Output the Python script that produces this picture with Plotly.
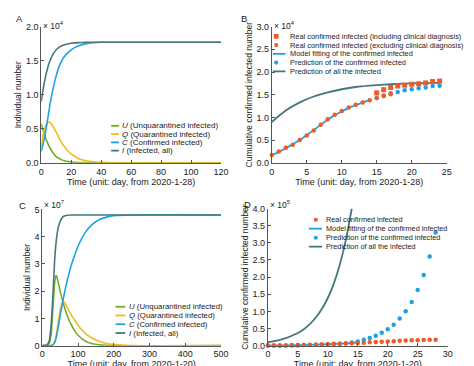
import plotly.graph_objects as go

# ---------------- DATA ----------------
# Panel A (values x10^4), time in days from 2020-1-28
a_t_U = [0, 2, 4, 6, 8, 10, 13, 16, 20, 25, 30, 40, 60, 120]
a_U = [0.57, 0.42, 0.30, 0.21, 0.14, 0.09, 0.05, 0.025, 0.01, 0.004, 0.002, 0, 0, 0]
a_t_Q = [0, 1, 2, 3, 4, 5, 6, 8, 10, 12, 15, 18, 20, 25, 30, 35, 40, 50, 60, 120]
a_Q = [0.23, 0.38, 0.48, 0.55, 0.59, 0.60, 0.59, 0.53, 0.45, 0.36, 0.25, 0.17, 0.13, 0.06, 0.03, 0.015, 0.007, 0.001, 0, 0]
a_t_C = [0, 2, 4, 6, 8, 10, 12, 15, 20, 25, 30, 40, 50, 120]
a_C = [0.17, 0.35, 0.60, 0.88, 1.10, 1.28, 1.42, 1.55, 1.66, 1.72, 1.75, 1.77, 1.77, 1.77]
a_t_I = [0, 1, 2, 3, 4, 5, 6, 8, 10, 12, 15, 20, 25, 30, 40, 120]
a_I = [0.90, 1.05, 1.17, 1.28, 1.37, 1.45, 1.51, 1.60, 1.66, 1.70, 1.73, 1.755, 1.765, 1.77, 1.77, 1.77]

# Panel B (values x10^4)
b_t_sq = [15, 16, 17, 18, 19, 20, 21, 22, 23, 24]
b_sq = [1.54, 1.61, 1.66, 1.69, 1.71, 1.73, 1.74, 1.76, 1.79, 1.80]
b_t_real = list(range(0, 18))
b_real = [0.17, 0.25, 0.33, 0.40, 0.50, 0.60, 0.71, 0.84, 0.96, 1.06, 1.14, 1.22, 1.28, 1.33, 1.38, 1.43, 1.47, 1.51]
b_t_fit = list(range(0, 15))
b_fit = [0.16, 0.24, 0.32, 0.41, 0.50, 0.61, 0.72, 0.84, 0.95, 1.05, 1.13, 1.21, 1.27, 1.33, 1.38]
b_t_pred = [15, 16, 17, 18, 19, 20, 21, 22, 23, 24]
b_pred = [1.43, 1.48, 1.53, 1.56, 1.60, 1.62, 1.64, 1.66, 1.69, 1.70]
b_t_all = [0, 2, 4, 6, 8, 10, 12, 14, 16, 18, 20, 22, 24]
b_all = [0.90, 1.15, 1.33, 1.46, 1.55, 1.62, 1.67, 1.70, 1.72, 1.74, 1.75, 1.755, 1.76]

# Panel C (values x10^7), time in days from 2020-1-20
c_t_U = [0, 15, 20, 25, 30, 35, 38, 40, 45, 50, 60, 70, 80, 90, 100, 120, 140, 160, 200, 500]
c_U = [0, 0.02, 0.1, 0.45, 1.4, 2.35, 2.57, 2.55, 2.3, 2.0, 1.5, 1.1, 0.8, 0.56, 0.38, 0.17, 0.07, 0.03, 0.005, 0]
c_t_Q = [0, 20, 25, 30, 35, 40, 45, 50, 55, 58, 62, 70, 80, 90, 100, 120, 140, 160, 180, 200, 250, 500]
c_Q = [0, 0, 0.01, 0.05, 0.15, 0.45, 0.9, 1.3, 1.55, 1.62, 1.6, 1.4, 1.15, 0.95, 0.75, 0.45, 0.27, 0.15, 0.08, 0.04, 0.005, 0]
c_t_C = [0, 25, 30, 35, 40, 45, 50, 60, 70, 80, 90, 100, 120, 140, 160, 180, 200, 250, 500]
c_C = [0, 0, 0.03, 0.12, 0.35, 0.7, 1.1, 1.8, 2.4, 2.9, 3.3, 3.65, 4.15, 4.45, 4.63, 4.72, 4.77, 4.8, 4.8]
c_t_I = [0, 10, 15, 20, 25, 30, 35, 40, 45, 50, 55, 60, 70, 80, 500]
c_I = [0, 0.01, 0.05, 0.2, 0.8, 1.9, 3.2, 3.95, 4.35, 4.56, 4.68, 4.75, 4.79, 4.8, 4.8]

# Panel D (values x10^5)
d_t_real = list(range(0, 29))
d_real = [0.003, 0.004, 0.005, 0.007, 0.010, 0.013, 0.017, 0.022, 0.027, 0.033, 0.040, 0.047, 0.055, 0.063,
          0.072, 0.080, 0.088, 0.097, 0.105, 0.112, 0.120, 0.130, 0.140, 0.148, 0.155, 0.160, 0.165, 0.170, 0.172]
d_t_fit = [0, 2, 4, 6, 8, 10, 12, 14, 15]
d_fit = [0.003, 0.006, 0.011, 0.018, 0.028, 0.041, 0.057, 0.078, 0.09]
d_t_pred = list(range(0, 29))
d_pred = [0.003, 0.004, 0.006, 0.008, 0.011, 0.014, 0.018, 0.023, 0.028, 0.034, 0.041, 0.048, 0.057, 0.07,
          0.09, 0.12, 0.17, 0.22, 0.29, 0.38, 0.48, 0.61, 0.79, 1.00, 1.27, 1.62, 2.06, 2.60, 3.30]
d_t_all = [0, 1, 2, 3, 4, 5, 6, 7, 8, 9, 10, 11, 12, 13, 14]
d_all = [0.10, 0.13, 0.17, 0.22, 0.29, 0.37, 0.48, 0.63, 0.82, 1.07, 1.39, 1.81, 2.36, 3.07, 4.0]

# Tick values
a_xticks = [0, 20, 40, 60, 80, 100, 120]
a_yticks = [0.0, 0.5, 1.0, 1.5, 2.0]
b_xticks = [0, 5, 10, 15, 20, 25]
b_yticks = [0.0, 0.5, 1.0, 1.5, 2.0, 2.5, 3.0]
c_xticks = [0, 100, 200, 300, 400, 500]
c_yticks = [0, 1, 2, 3, 4, 5]
d_xticks = [0, 5, 10, 15, 20, 25, 30]
d_yticks = [0.0, 0.5, 1.0, 1.5, 2.0, 2.5, 3.0, 3.5, 4.0]

# ---------------- STYLE ----------------
W, H = 474, 366
GREEN = "#72ae26"
YELLOW = "#f4ba1f"
BLUE = "#1ea2e3"
TEAL = "#45777c"
RED = "#ef5a26"
FONT = "Arial, Liberation Sans, sans-serif"
TXT = "#222222"


def px(x):
    return x / W


def py(y):
    return 1 - y / H


fig = go.Figure()


def line(x, y, color, xa, ya, width=1.6):
    fig.add_trace(go.Scatter(x=x, y=y, mode="lines", line=dict(color=color, width=width, shape="spline", smoothing=0.6),
                             xaxis=xa, yaxis=ya, showlegend=False, hoverinfo="skip"))


def dots(x, y, color, xa, ya, symbol="circle", size=4.5):
    fig.add_trace(go.Scatter(x=x, y=y, mode="markers", marker=dict(color=color, size=size, symbol=symbol, line=dict(width=0)),
                             xaxis=xa, yaxis=ya, showlegend=False, cliponaxis=False, hoverinfo="skip"))


# Panel A
line(a_t_U, a_U, GREEN, "x", "y")
line(a_t_Q, a_Q, YELLOW, "x", "y")
line(a_t_C, a_C, BLUE, "x", "y")
line(a_t_I, a_I, TEAL, "x", "y")
# Panel B
line(b_t_all, b_all, TEAL, "x2", "y2", 1.8)
line(b_t_fit, b_fit, BLUE, "x2", "y2", 1.8)
dots(b_t_pred, b_pred, BLUE, "x2", "y2")
dots(b_t_sq, b_sq, RED, "x2", "y2", "square", 5)
dots(b_t_real, b_real, RED, "x2", "y2")
# Panel C
line(c_t_U, c_U, GREEN, "x3", "y3")
line(c_t_Q, c_Q, YELLOW, "x3", "y3")
line(c_t_C, c_C, BLUE, "x3", "y3")
line(c_t_I, c_I, TEAL, "x3", "y3")
# Panel D
line(d_t_fit, d_fit, BLUE, "x4", "y4", 1.8)
dots(d_t_pred, d_pred, BLUE, "x4", "y4")
dots(d_t_real, d_real, RED, "x4", "y4")
line(d_t_all, d_all, TEAL, "x4", "y4", 1.8)

tickfont = dict(family=FONT, size=9, color=TXT)
xtitlefont = dict(family=FONT, size=9, color=TXT)
ytitlefont = dict(family=FONT, size=8.5, color=TXT)


def xax(dom, rng, ticks, title, anchor):
    return dict(domain=dom, range=rng, tickvals=ticks, anchor=anchor, showline=True, linecolor="#555", linewidth=1,
                ticks="inside", ticklen=3, tickcolor="#555", showgrid=False, zeroline=False, tickfont=tickfont,
                title=dict(text=title, font=xtitlefont, standoff=1), fixedrange=True)


def yax(dom, rng, ticks, fmt, title, anchor):
    return dict(domain=dom, range=rng, tickvals=ticks, tickformat=fmt, anchor=anchor, showline=True, linecolor="#555",
                linewidth=1, ticks="inside", ticklen=3, tickcolor="#555", showgrid=False, zeroline=False,
                tickfont=tickfont, title=dict(text=title, font=ytitlefont, standoff=2), fixedrange=True)


xt1 = "Time (unit: day, from 2020-1-28)"
xt2 = "Time (unit: day, from 2020-1-20)"

fig.update_layout(
    width=W, height=H, autosize=False, margin=dict(l=0, r=0, t=0, b=0),
    paper_bgcolor="white", plot_bgcolor="white", showlegend=False,
    font=dict(family=FONT, color=TXT),
    xaxis=xax([px(31), px(215)], [0, 120], a_xticks, xt1, "y"),
    yaxis=yax([py(154), py(14)], [0, 2.0], a_yticks, ".1f", "Individual number", "x"),
    xaxis2=xax([px(267), px(446)], [0, 25], b_xticks, xt1, "y2"),
    yaxis2=yax([py(154), py(14)], [0, 3.0], b_yticks, ".1f", "Cumulative confirmed infected number", "x2"),
    xaxis3=xax([px(32), px(215)], [0, 500], c_xticks, xt2, "y3"),
    yaxis3=yax([py(342), py(202)], [0, 5], c_yticks, "d", "Individual number", "x3"),
    xaxis4=xax([px(263), px(447)], [0, 30], d_xticks, xt2, "y4"),
    yaxis4=yax([py(342), py(201)], [0, 4.0], d_yticks, ".1f", "Cumulative confirmed infected number", "x4"),
)

ann = []
shapes = []


def text(x, y, s, size, anchor="left"):
    ann.append(dict(x=px(x), y=py(y), xref="paper", yref="paper", text=s, showarrow=False, xanchor=anchor,
                    yanchor="middle", font=dict(family=FONT, size=size, color=TXT)))


# panel letters
text(3, 6, "A", 9.5)
text(233, 6, "B", 9.5)
text(6, 198, "C", 9.5)
text(236, 197, "D", 9.5)
# exponent labels
text(31, 13, "× 10<sup>4</sup>", 8.5)
text(267, 13, "× 10<sup>4</sup>", 8.5)
text(32, 197, "× 10<sup>7</sup>", 8.5)
text(263, 197, "× 10<sup>5</sup>", 8.5)


def leg_line(x0, x1, y, color):
    shapes.append(dict(type="line", xref="paper", yref="paper", x0=px(x0), x1=px(x1), y0=py(y), y1=py(y),
                       line=dict(color=color, width=1.8)))


def leg_dot(cx, cy, color, r=2.1, kind="circle"):
    shapes.append(dict(type=kind, xref="paper", yref="paper", x0=px(cx - r), x1=px(cx + r), y0=py(cy + r),
                       y1=py(cy - r), fillcolor=color, line=dict(width=0)))


# Legend A
la = [("<i>U</i> (Unquarantined infected)", GREEN), ("<i>Q</i> (Quarantined infected)", YELLOW),
      ("<i>C</i> (Confirmed infected)", BLUE), ("<i>I</i> (Infected, all)", TEAL)]
for i, (s, c) in enumerate(la):
    yy = 116 + i * 8.5
    leg_line(102.5, 110.5, yy, c)
    text(112, yy, s, 8)

# Legend C
for i, (s, c) in enumerate(la):
    yy = 302 + i * 9
    leg_line(107, 117, yy, c)
    text(118.5, yy, s, 7.8)

# Legend B
ys = [24, 33, 42, 51, 60]
leg_dot(271.5, ys[0], RED, 2.4, "rect")
leg_dot(271.5, ys[1], RED)
leg_line(268, 281, ys[2], BLUE)
leg_dot(271.5, ys[3], BLUE)
leg_line(268, 281, ys[4], TEAL)
lb = ["Real confirmed infected (including clinical diagnosis)", "Real confirmed infected (excluding clinical diagnosis)",
      "Model fitting of the confirmed infected", "Prediction of the confirmed infected", "Prediction of all the infected"]
for yy, s in zip(ys, lb):
    text(283.5, yy, s, 7.4)

# Legend D
yd = [212.5, 221.7, 231, 240.2]
leg_dot(312, yd[0], RED)
leg_line(305, 318.5, yd[1], BLUE)
leg_dot(312, yd[2], BLUE)
leg_line(305, 318.5, yd[3], TEAL)
ld = ["Real confirmed infected", "Model fitting of the confirmed infected", "Prediction of the confirmed infected",
      "Prediction of all the infected"]
for yy, s in zip(yd, ld):
    text(320.5, yy, s, 7.3)

fig.update_layout(annotations=ann, shapes=shapes)
fig.write_html("out.html")
